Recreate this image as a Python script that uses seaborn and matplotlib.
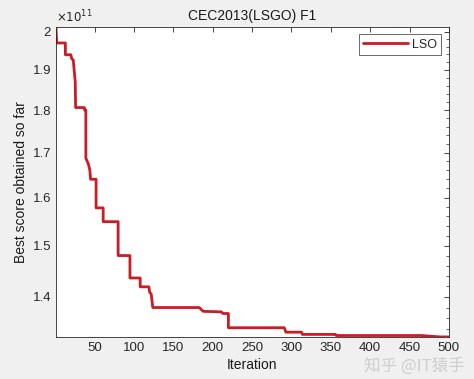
import matplotlib
matplotlib.use("Agg")
import matplotlib.pyplot as plt
import matplotlib.ticker as mticker
import seaborn as sns
import pandas as pd

# convergence curve of LSO, best score in units of 1e11
iterations = [1, 2, 13, 13, 20, 21, 23, 25.5, 26, 37, 37.5, 39, 39, 42, 44, 45, 52, 52,
              61, 61, 80, 80, 95, 95, 108, 108, 119, 120, 122, 124, 183, 188, 211, 213,
              220, 220, 291, 293, 313, 314, 356, 357, 465, 489, 500]
best_score = [2.013, 1.970, 1.970, 1.939, 1.939, 1.929, 1.925, 1.870, 1.806, 1.806, 1.800, 1.800,
              1.687, 1.675, 1.661, 1.640, 1.640, 1.578, 1.578, 1.549, 1.549, 1.480, 1.480, 1.436,
              1.436, 1.419, 1.419, 1.409, 1.405, 1.380, 1.380, 1.373, 1.372, 1.369, 1.369, 1.343,
              1.343, 1.335, 1.335, 1.331, 1.331, 1.329, 1.329, 1.3265, 1.3265]
x_ticks = [50, 100, 150, 200, 250, 300, 350, 400, 450, 500]
y_ticks = [1.4, 1.5, 1.6, 1.7, 1.8, 1.9, 2.0]
y_tick_labels = ["1.4", "1.5", "1.6", "1.7", "1.8", "1.9", "2"]

df = pd.DataFrame({"Iteration": iterations, "score": best_score})

sns.set_style("white")
plt.rcParams["font.family"] = ["Liberation Sans", "DejaVu Sans"]
plt.rcParams["font.size"] = 9

fig = plt.figure(figsize=(4.74, 3.79), dpi=100, facecolor="#f0f0f0")
ax = fig.add_axes([0.118, 0.111, 0.829, 0.818])

sns.lineplot(data=df, x="Iteration", y="score", sort=False, estimator=None,
             color="#cc1b24", linewidth=2.0, label="LSO", ax=ax)

ax.set_yscale("log")
ax.set_xlim(1, 500)
ax.set_ylim(min(best_score), max(best_score))
ax.set_xticks(x_ticks)
ax.yaxis.set_major_locator(mticker.FixedLocator(y_ticks))
ax.yaxis.set_major_formatter(mticker.FixedFormatter(y_tick_labels))
minor = [1.34 + 0.02 * i for i in range(34)]
ax.yaxis.set_minor_locator(mticker.FixedLocator(minor))
ax.yaxis.set_minor_formatter(mticker.NullFormatter())

ax.tick_params(which="both", direction="in", top=True, right=True, colors="#262626",
               labelcolor="#262626", labelsize=9.5)
ax.tick_params(which="major", length=3.5, width=0.6)
ax.tick_params(which="minor", length=2, width=0.5)
for s in ax.spines.values():
    s.set_color("#262626")
    s.set_linewidth(0.6)

ax.set_title("CEC2013(LSGO) F1", fontsize=10, color="#1a1a1a", pad=5)
ax.set_xlabel("Iteration", fontsize=10, color="#1a1a1a", labelpad=3)
ax.set_ylabel("Best score obtained so far", fontsize=10, color="#1a1a1a", labelpad=3)
ax.text(0.0, 1.005, r"$\times10^{11}$", transform=ax.transAxes, fontsize=8.5,
        color="#262626", ha="left", va="bottom")

leg = ax.legend(loc="upper right", fontsize=9, frameon=True, fancybox=False,
                handlelength=3.6, borderpad=0.35, handletextpad=0.3,
                borderaxespad=0.6)
leg.get_frame().set_edgecolor("#262626")
leg.get_frame().set_linewidth(0.6)

# faint site watermark, bottom right as in the source image
fig.text(0.98, 0.012, "知乎 @IT猿手", fontsize=12, color="#c0c0c0", alpha=0.7,
         ha="right", va="bottom", family=["Noto Sans CJK SC", "DejaVu Sans"])

fig.savefig("out.png", dpi=100, facecolor=fig.get_facecolor())
